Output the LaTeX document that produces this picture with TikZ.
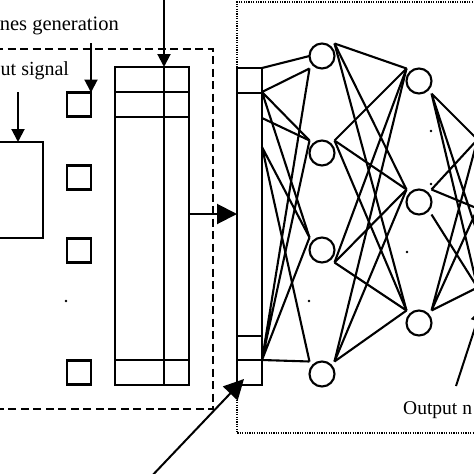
\documentclass[tikz,border=0pt]{standalone}
\usepackage{fontspec}
\setmainfont{Liberation Serif}
\usetikzlibrary{arrows.meta,positioning}

\tikzset{
  line/.style={line width=2.1pt},
  arr/.style={line width=2pt, -{Triangle[length=13pt,width=13pt]}},
  bigarr/.style={line width=2pt, -{Triangle[length=20pt,width=20pt]}},
  neuron/.style={draw, circle, line width=2.1pt, minimum size=25pt, inner sep=0pt, outer sep=0pt},
  tapbox/.style={draw, line width=2.1pt, minimum size=24pt, inner sep=0pt, outer sep=0pt},
  cellbox/.style={draw, line width=2.1pt, inner sep=0pt, outer sep=0pt},
  lbl/.style={font=\fontsize{20.5}{22}\selectfont, inner sep=0pt},
}

\begin{document}
\begin{tikzpicture}[x=1pt, y=-1pt]
  \useasboundingbox (0,0) rectangle (474,474);
  \clip (0,0) rectangle (474,474);

  % frames
  \draw[line width=2pt, dash pattern=on 8pt off 4.5pt] (-5,49) -- (213,49) -- (213,409) -- (-5,409);
  \draw[line width=1.5pt, dash pattern=on 1.2pt off 1.2pt] (480,2) -- (237,2) -- (237,433) -- (480,433);

  % labels
  \node[lbl, anchor=base east] (framelbl) at (119,30) {nes generation};
  \node[lbl, anchor=base west, font=\fontsize{20}{22}\selectfont] (siglbl) at (0.5,75) {ut signal};
  \node[lbl, anchor=base west, font=\fontsize{19.5}{21}\selectfont] (outlbl) at (403,414) {Output n};

  % signal and windows
  \node[cellbox, minimum width=70pt, minimum height=96pt] (sigbox) at (8,190) {};
  \node[tapbox] (sq1) at (79,104.5) {};
  \node[tapbox] (sq2) at (79,177.5) {};
  \node[tapbox] (sq3) at (79,250.5) {};
  \node[tapbox] (sq4) at (79,372.5) {};
  \fill (66,301) circle (1.4pt);

  \node[cellbox, minimum width=74pt, minimum height=318pt] (frames) at (152,226) {};
  \draw[line] (164,67) -- (164,385);
  \foreach \y in {92,117,360}
    \draw[line] (115,\y) -- (189,\y);

  \node[cellbox, minimum width=25pt, minimum height=317pt] (delay) at (249.5,226.5) {};
  \foreach \y in {93,336,360}
    \draw[line] (237,\y) -- (262,\y);

  % arrows
  \coordinate (topin) at (164,-5);
  \coordinate (lblfoot) at (91,43);
  \coordinate (sigfoot) at (18,92);
  \coordinate (botin) at (148,480);
  \coordinate (bottip) at (244,379);
  \coordinate (outfoot) at (456,386);
  \draw[arr] (topin) -- (frames.north -| topin);
  \draw[arr] (lblfoot) -- (sq1.north east);
  \draw[arr] (sigfoot) -- (sigbox.north -| sigfoot);
  \draw[bigarr] (frames.east |- 0,214) -- (delay.west |- 0,214);
  \draw[bigarr] (botin) -- (bottip);

  % hidden layers
  \foreach \n/\y in {1/56,2/153,3/250,4/374}
    \node[neuron] (h\n) at (322,\y) {};
  \foreach \n/\y in {1/81,2/202,3/323}
    \node[neuron] (g\n) at (419,\y) {};
  \foreach \n/\y in {1/152,2/221,3/300}
    \node[neuron] (o\n) at (490,\y) {};
  \fill (309,301) circle (1.4pt);
  \fill (431,131) circle (1.4pt);
  \fill (431,184) circle (1.4pt);
  \fill (407,252) circle (1.4pt);

  % taps to first layer
  \coordinate (ta) at (262,68);
  \coordinate (tb) at (262,92);
  \coordinate (tc) at (262,118);
  \coordinate (te) at (262,147);
  \coordinate (td) at (262,360);
  \draw[line] (ta) -- (h1.west);
  \draw[line] (tc) -- (h2.west |- h2.north);
  \draw[line] (te) -- (h3.west |- h3.north)
              (te) -- (h4.west |- h4.north);
  \foreach \t in {tb,td}
    \draw[line] (\t) -- (h1.west |- h1.south)
                (\t) -- (h2.west |- h2.north)
                (\t) -- (h3.west |- h3.north);
  \draw[line] (td) -- (h4.west |- h4.north);

  % first layer to second layer
  \coordinate (h1r) at (h1.east |- h1.north);
  \coordinate (h2r) at (h2.east |- h2.north);
  \coordinate (h3r) at (h3.east |- h3.south);
  \coordinate (h4r) at (h4.east |- h4.north);
  \foreach \a in {h1r,h2r,h3r,h4r}
    \foreach \b in {g1,g2,g3}
      \draw[line] (\a) -- (\b.west |- \b.north);

  % second layer to output
  \coordinate (g1r) at (g1.east |- g1.south);
  \coordinate (g2r) at (g2.east |- g2.north);
  \coordinate (g2s) at (g2.east |- g2.south);
  \coordinate (g3r) at (g3.east |- g3.north);
  \draw[line] (g1r) -- (o1.west |- o1.north)
              (g1r) -- (o2.west |- o2.south)
              (g1r) -- (o3.west |- o3.north)
              (g2r) -- (o1.west |- o1.north)
              (g2r) -- (o2.west |- o2.north)
              (g2s) -- (o3.west |- o3.north)
              (g3r) -- (o1.west |- o1.north)
              (g3r) -- (o2.west |- o2.north)
              (g3r) -- (o3.west |- o3.north);
  \draw[arr] (outfoot) -- (o3.south west);
\end{tikzpicture}
\end{document}
